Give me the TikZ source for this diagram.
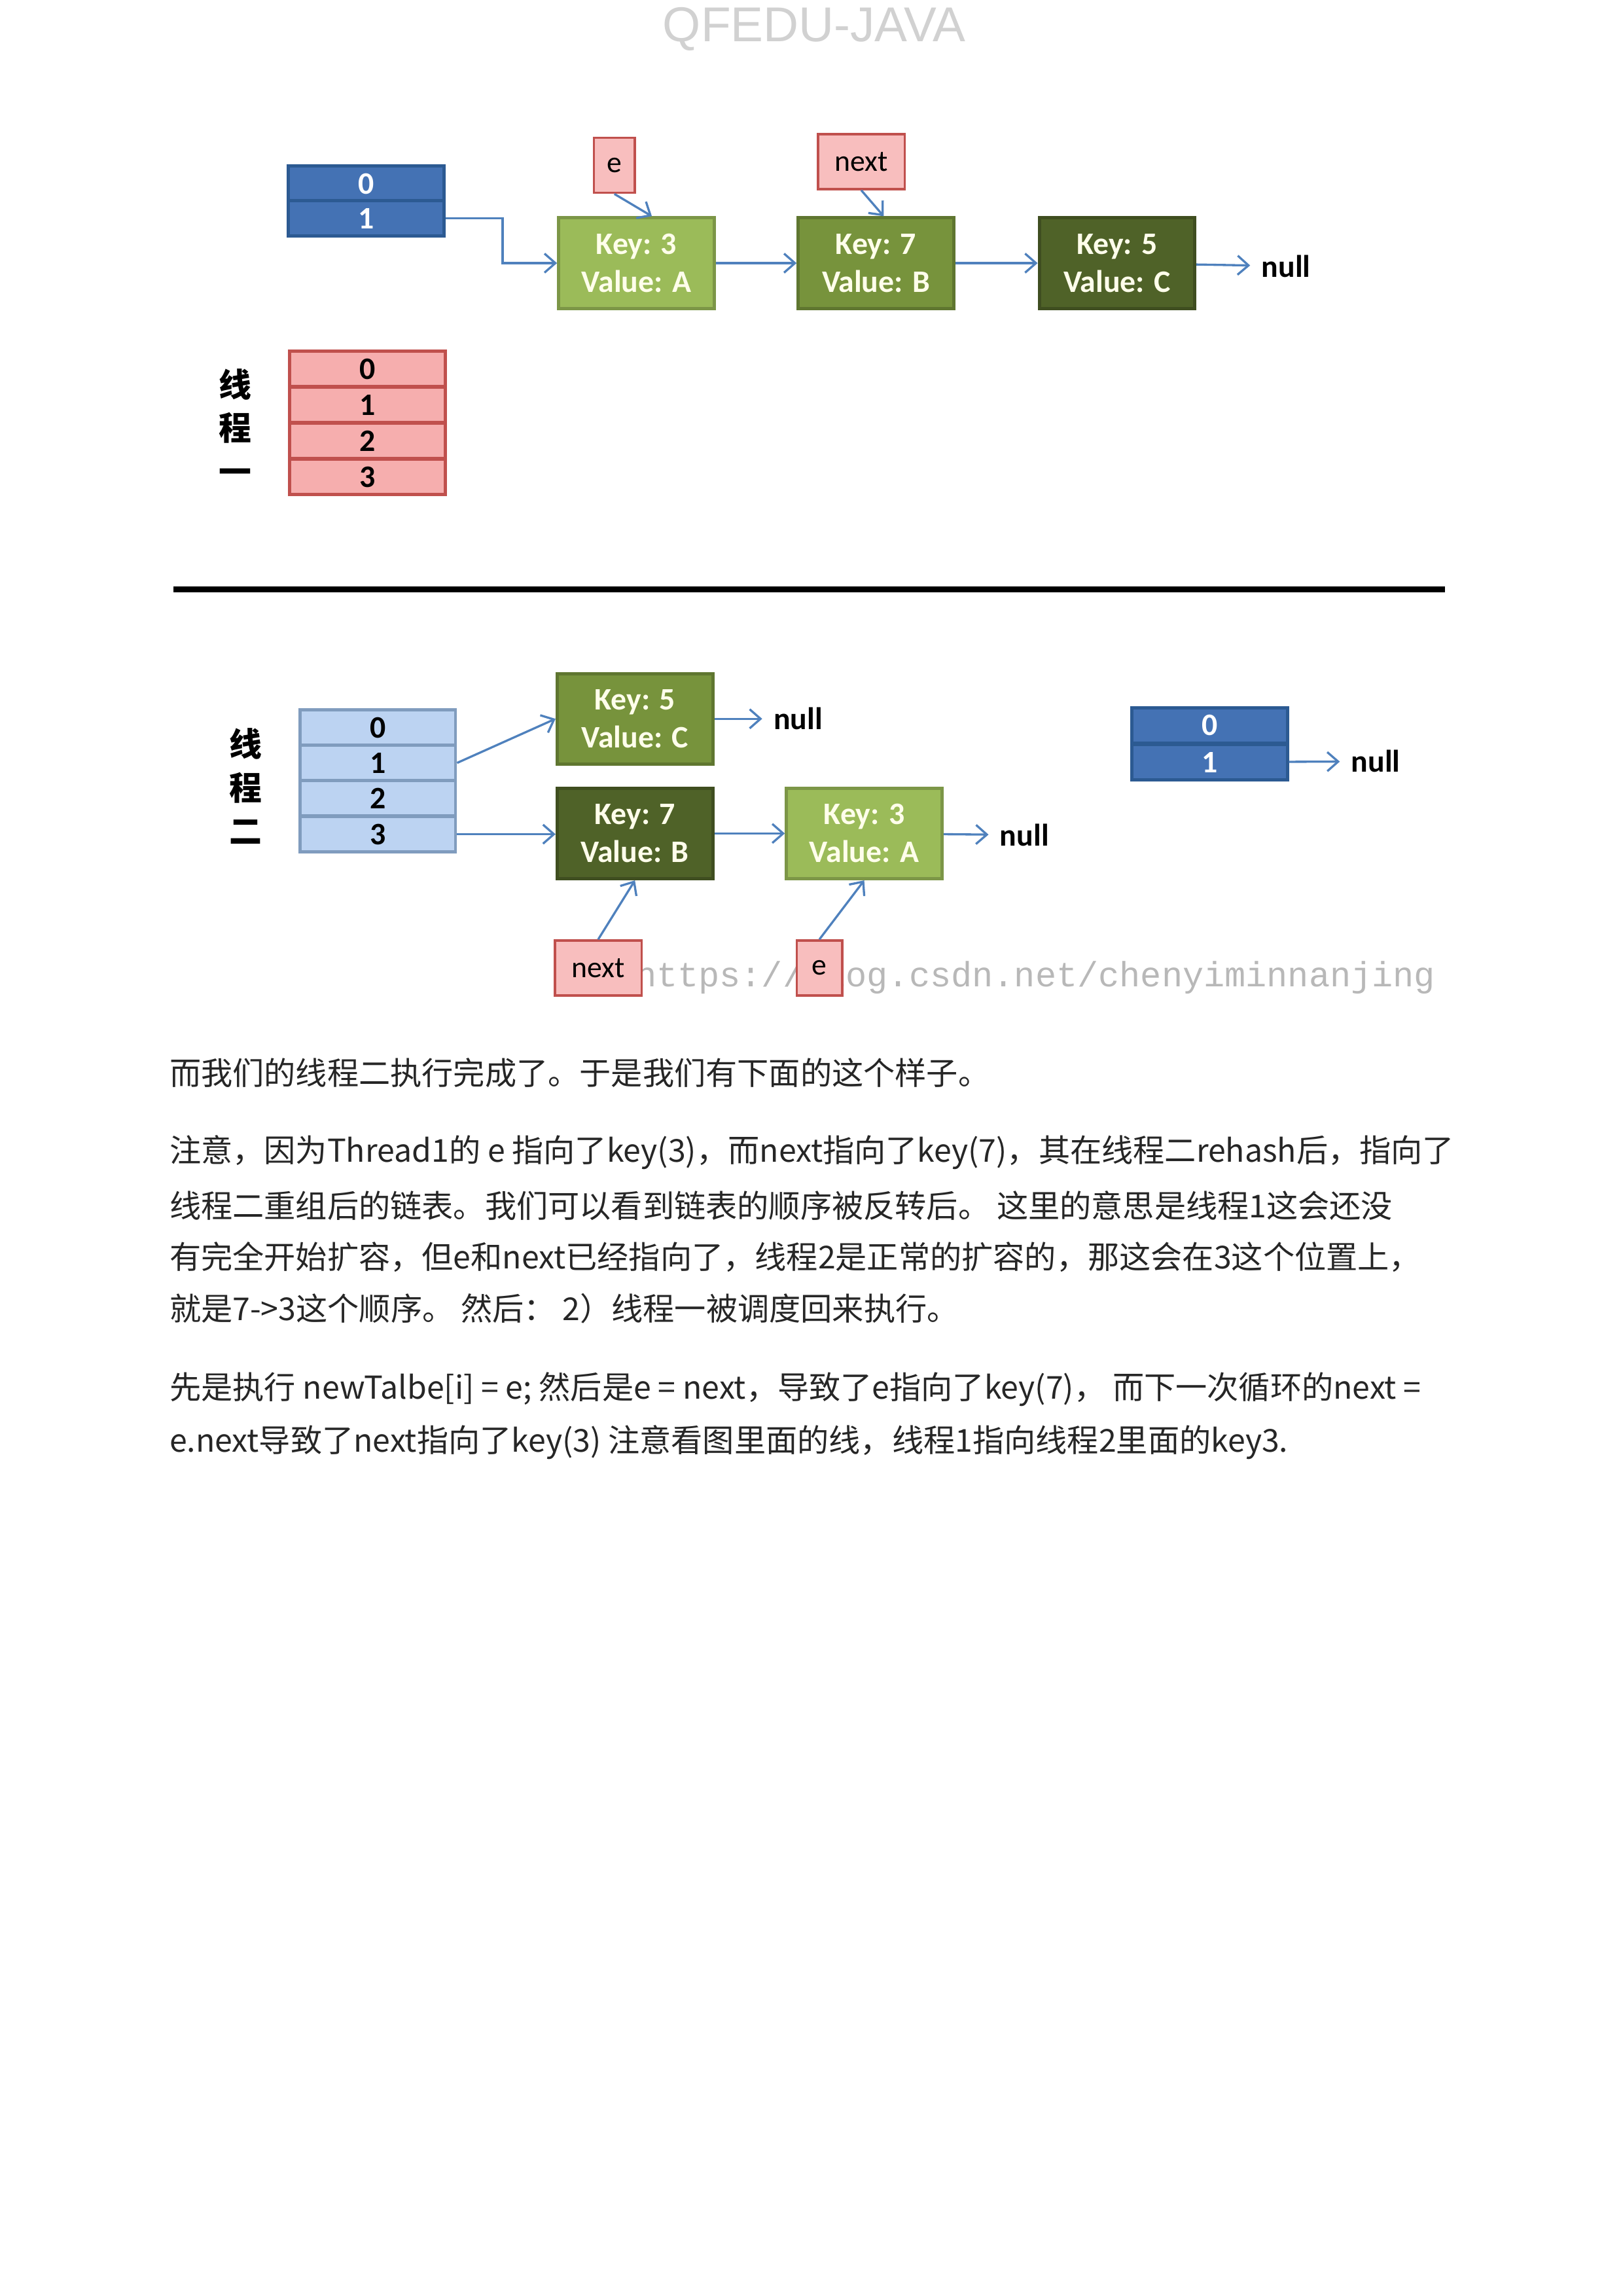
\documentclass[tikz,border=0pt]{standalone}
\usepackage{fontspec}
\setmainfont{Carlito}
\newfontfamily\cjk{Noto Sans CJK SC}
\newfontfamily\titlefont{Liberation Sans}
\newfontfamily\wmfont{Liberation Mono}
\usetikzlibrary{arrows.meta}

\definecolor{tblblue}{HTML}{4472B4}
\definecolor{tblblueedge}{HTML}{2C5A92}
\definecolor{tblpale}{HTML}{BCD3F2}
\definecolor{tblpink}{HTML}{F6AEAE}
\definecolor{pinkedge}{HTML}{C0504D}
\definecolor{grnlight}{HTML}{9BBB59}
\definecolor{grnmid}{HTML}{77933C}
\definecolor{grndark}{HTML}{4F6228}
\definecolor{linkblue}{HTML}{4F81BD}

\tikzset{
  cell/.style={draw=#1, line width=1.2pt, minimum width=2.01cm, minimum height=0.46cm,
    inner sep=0pt, font=\bfseries\fontsize{11.5}{11}\selectfont},
  bluecell/.style={cell=tblblueedge, fill=tblblue, text=white},
  palecell/.style={cell=tblblueedge!60, fill=tblpale, text=black},
  pinkcell/.style={cell=pinkedge, fill=tblpink, text=black},
  entry/.style={draw=#1!80!black, line width=1.2pt, fill=#1, text=white!92!yellow,
    minimum width=2.01cm, minimum height=1.17cm, align=center, inner sep=0pt,
    font=\bfseries\fontsize{11.5}{14}\selectfont},
  ptr/.style={draw=pinkedge, line width=0.8pt, fill=tblpink!80!white, minimum height=0.71cm,
    inner sep=2pt, font=\fontsize{11}{10}\selectfont},
  link/.style={draw=linkblue, line width=0.8pt, -{Straight Barb[length=4pt,width=7pt]}},
  nullword/.style={font=\bfseries\fontsize{11.5}{11}\selectfont, inner sep=4pt},
  vlabel/.style={font=\cjk\bfseries\fontsize{12}{14}\selectfont, inner sep=0pt, align=center},
  para/.style={anchor=west, inner sep=0pt, font=\cjk\fontsize{11.6}{11.6}\selectfont, text=black!85}
}

\begin{document}
\begin{tikzpicture}[x=0.019cm, y=-0.019cm]
  \useasboundingbox (0,0) rectangle (1104,1562);
  \node[font=\titlefont\fontsize{18}{18}\selectfont, text=black!18] (title) at (554,20) {QFEDU-JAVA};

  % thread one, before
  \node[bluecell] (ta0) at (249,125) {0};
  \node[bluecell] (ta1) at (249,148.5) {1};
  \node[entry=grnlight] (k3) at (433,179) {Key: 3\\Value: A};
  \node[entry=grnmid] (k7) at (596,179) {Key: 7\\Value: B};
  \node[entry=grndark] (k5) at (760,179) {Key: 5\\Value: C};
  \node[nullword] (null1) at (875,181) {null};
  \node[ptr, minimum width=0.53cm] (e1) at (418,112.5) {e};
  \node[ptr, minimum width=1.12cm] (n1) at (586,110) {next};
  \coordinate (bend1) at (342,148.5);
  \draw[link] (ta1.east) -- (bend1) |- (k3.west);
  \draw[link] (k3) -- (k7);
  \draw[link] (k7) -- (k5);
  \draw[link] (k5) -- (null1);
  \draw[link] (e1.south) -- ([xshift=0.2cm]k3.north);
  \draw[link] (n1.south) -- ([xshift=0.1cm]k7.north);

  \node[pinkcell] (tp0) at (250,251) {0};
  \node[pinkcell] (tp1) at (250,275.5) {1};
  \node[pinkcell] (tp2) at (250,300) {2};
  \node[pinkcell] (tp3) at (250,324.5) {3};
  \node[vlabel] (lab1) at (160,290) {线\\[2pt]程\\[2pt]一};

  \draw[line width=2pt] (118,401) -- (983,401);

  % watermark
  \node[font=\wmfont\fontsize{12.9}{13}\selectfont, text=black!28, anchor=west, inner sep=0pt] (wm) at (432,665) {https://blog.csdn.net/chenyiminnanjing};

  % thread two, after
  \node[palecell] (tb0) at (257,495) {0};
  \node[palecell] (tb1) at (257,519) {1};
  \node[palecell] (tb2) at (257,543) {2};
  \node[palecell] (tb3) at (257,567.5) {3};
  \node[vlabel] (lab2) at (167,535) {线\\[2pt]程\\[2pt]二};
  \node[entry=grnmid] (m5) at (432,489) {Key: 5\\Value: C};
  \node[entry=grndark] (m7) at (432,567) {Key: 7\\Value: B};
  \node[entry=grnlight] (m3) at (588,567) {Key: 3\\Value: A};
  \node[nullword] (null2) at (543,489) {null};
  \node[nullword] (null3) at (697,568) {null};
  \node[ptr, minimum width=1.12cm] (n2) at (407,658.5) {next};
  \node[ptr, minimum width=0.59cm] (e2) at (557.5,658.5) {e};
  \draw[link] (tb1.east) -- (m5.west);
  \draw[link] (tb3.east) -- (tb3.east -| m7.west);
  \draw[link] (m7) -- (m3);
  \draw[link] (m5) -- (null2);
  \draw[link] (m3) -- (null3);
  \draw[link] (n2.north) -- (m7.south);
  \draw[link] (e2.north) -- (m3.south);

  \node[bluecell] (tc0) at (823,493.5) {0};
  \node[bluecell] (tc1) at (823,518.5) {1};
  \node[nullword] (null4) at (936,518) {null};
  \draw[link] (tc1) -- (null4);

  % text below
  \node[para] (p1) at (115,730) {而我们的线程二执行完成了。于是我们有下面的这个样子。};
  \node[para] (p2) at (115,784) {注意，因为Thread1的 e 指向了key(3)，而next指向了key(7)，其在线程二rehash后，指向了};
  \node[para] (p3) at (115,820) {线程二重组后的链表。我们可以看到链表的顺序被反转后。 这里的意思是线程1这会还没};
  \node[para] (p4) at (115,855) {有完全开始扩容，但e和next已经指向了，线程2是正常的扩容的，那这会在3这个位置上，};
  \node[para] (p5) at (115,890) {就是7->3这个顺序。 然后： 2）线程一被调度回来执行。};
  \node[para] (p6) at (115,945) {先是执行 newTalbe[i] = e; 然后是e = next，导致了e指向了key(7)， 而下一次循环的next =};
  \node[para] (p7) at (115,981) {e.next导致了next指向了key(3) 注意看图里面的线，线程1指向线程2里面的key3.};
\end{tikzpicture}
\end{document}
